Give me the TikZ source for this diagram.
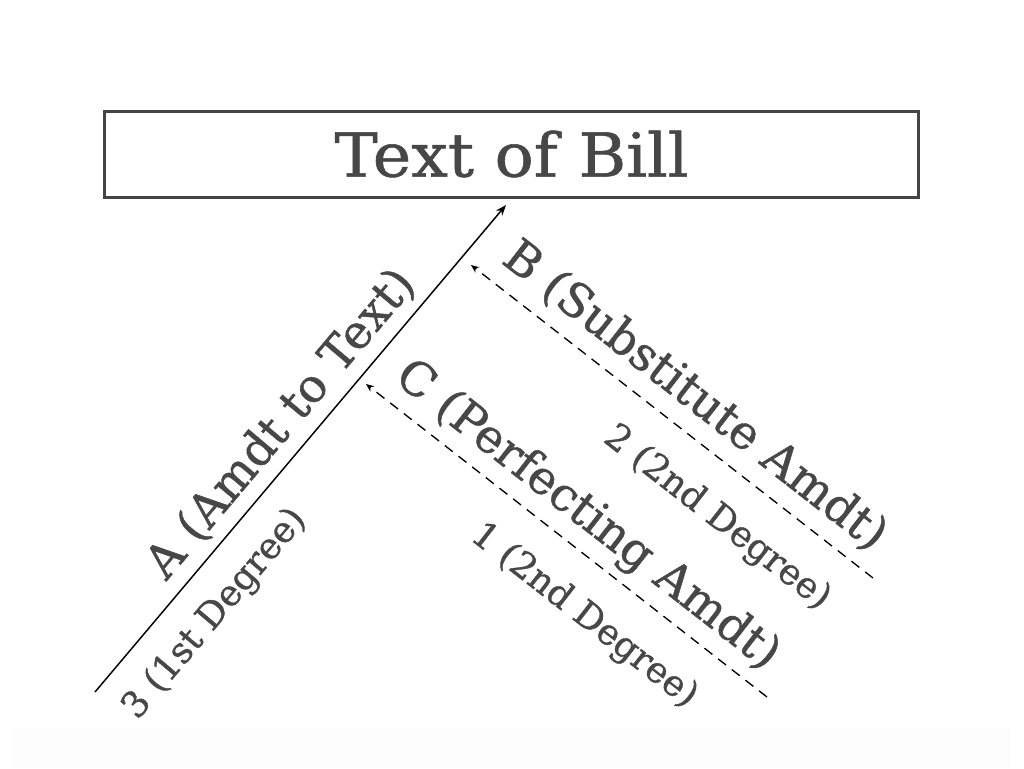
\documentclass[tikz,border=0pt]{standalone}
\usepackage{fontspec}
\setmainfont{DejaVu Serif}[FakeBold=0.9]
\newfontfamily\twfont{DejaVu Serif}[FakeBold=0.9]
\usetikzlibrary{arrows.meta,shadows}
\definecolor{ink}{HTML}{474747}
\definecolor{boxline}{HTML}{444444}
\begin{document}
\begin{tikzpicture}[x=0.75pt,y=-0.75pt,
  lab/.style={text=ink, inner sep=0pt, font=\twfont\fontsize{35}{40}\selectfont},
  sublab/.style={text=ink, inner sep=0pt, font=\twfont\fontsize{27}{30}\selectfont},
  solidarrow/.style={line width=1.1pt, -{Stealth[length=8pt,width=6pt]}},
  dasharrow/.style={line width=1pt, dash pattern=on 7.5pt off 5.5pt, -{Stealth[length=6pt,width=5pt]}},
  billbox/.style={draw=boxline, line width=2.25pt, fill=white, minimum width=611pt, minimum height=64.5pt, inner sep=0pt,
    drop shadow={opacity=0.18, shadow xshift=1pt, shadow yshift=-1.5pt}}]
\useasboundingbox (0,0) rectangle (1024,768);
\fill[gray!2] (15,728) rectangle (1010,768);
\node[billbox] (bill) at (511.5,154) {\textcolor{ink}{\twfont\resizebox{265.5pt}{34.5pt}{Text of Bill}}};
\coordinate (a0) at (95,692); \coordinate (a1) at (506,205);
\coordinate (b0) at (873,578); \coordinate (b1) at (471,265);
\coordinate (c0) at (767,697); \coordinate (c1) at (366,384);
\draw[solidarrow] (a0) -- (a1);
\draw[dasharrow] (b0) -- (b1);
\draw[dasharrow] (c0) -- (c1);
\node[lab, rotate=49.8] (la) at (281,424) {A (Amdt to Text)};
\node[sublab, rotate=49.8] (l3) at (215,614) {3 (1st Degree)};
\node[lab, rotate=-37.9] (lb) at (695,396) {B (Substitute Amdt)};
\node[sublab, rotate=-37.9] (l2) at (717,518) {2 (2nd Degree)};
\node[lab, rotate=-37.9] (lc) at (587,516) {C (Perfecting Amdt)};
\node[sublab, rotate=-37.9] (l1) at (584,616) {1 (2nd Degree)};
\end{tikzpicture}
\end{document}
